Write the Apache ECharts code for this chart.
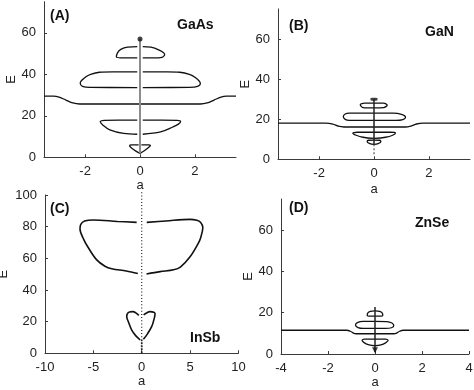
<!DOCTYPE html>
<html>
<head>
<meta charset="utf-8">
<script src="https://cdn.jsdelivr.net/npm/echarts@6/dist/echarts.min.js"></script>
<style>
html,body{margin:0;padding:0;background:#fff;}
#chart{width:474px;height:390px;}
</style>
</head>
<body>
<div id="chart"></div>
<script>
// ---------- Panel A : GaAs ----------
const gaAsBand = [[-3.5,29.5],[-3.15,29.5],[-2.95,29.0],[-2.7,27.6],[-2.45,26.2],[-2.2,25.7],[0,25.7],[2.2,25.7],[2.45,26.2],[2.7,27.6],[2.95,29.0],[3.15,29.5],[3.5,29.5]];
const gaAsL1 = [[-0.05,6.0],[-0.3,6.0],[-0.38,5.6],[-0.3,4.4],[-0.15,3.0],[0,1.9]];
const gaAsR1 = [[0.05,6.0],[0.3,6.0],[0.38,5.7],[0.3,4.6],[0.17,3.3],[0,1.9]];
const gaAsL2 = [[-0.1,17.9],[-0.8,17.9],[-1.3,17.8],[-1.45,17.1],[-1.35,15.5],[-1.1,13.2],[-0.6,11.5],[-0.1,11.1]];
const gaAsR2 = [[0.1,17.9],[0.8,17.9],[1.35,17.8],[1.48,17.3],[1.4,16.0],[1.2,14.6],[0.75,12.2],[0.1,11.1]];
const gaAsL3 = [[-0.1,41.2],[-1.0,41.2],[-1.48,41.0],[-1.8,40.0],[-1.97,38.8],[-2.18,35.8],[-2.1,34.2],[-1.8,33.7],[-0.1,33.6]];
const gaAsR3 = [[0.1,41.2],[1.0,41.2],[1.45,41.0],[1.8,40.0],[2.0,38.6],[2.2,35.6],[2.1,34.2],[1.8,33.7],[0.1,33.6]];
const gaAsL4 = [[-0.1,53.3],[-0.45,53.1],[-0.7,52.0],[-0.82,50.3],[-0.86,48.3],[-0.6,47.9],[-0.1,47.9]];
const gaAsR4 = [[0.1,53.3],[0.4,53.1],[0.68,51.8],[0.9,49.6],[0.8,48.2],[0.5,47.9],[0.1,47.9]];
const gaAsStem = [[0,1.9],[0,57]];
const gaAsTop = [[0,57]];

// ---------- Panel B : GaN ----------
const gaNBand = [[-3.5,18],[-1.75,18],[-1.5,17.5],[-1.3,16.5],[-1.1,16.1],[0,16.1],[1.15,16.1],[1.35,16.6],[1.55,17.6],[1.8,18],[3.5,18]];
const gaNL1 = [[0,9.6],[-0.2,9.5],[-0.25,8.8],[-0.15,7.8],[0,7.4]];
const gaNR1 = [[0,9.6],[0.2,9.5],[0.25,8.8],[0.15,7.8],[0,7.4]];
const gaNL2 = [[0,13.5],[-0.6,13.5],[-0.77,13.0],[-0.65,12.0],[-0.4,11.0],[0,10.4]];
const gaNR2 = [[0,13.5],[0.6,13.5],[0.78,13.1],[0.68,12.0],[0.42,11.0],[0,10.4]];
const gaNL3 = [[0,23.0],[-0.9,23.0],[-1.05,22.6],[-1.12,21.3],[-1.05,19.9],[-0.9,19.4],[0,19.4]];
const gaNR3 = [[0,23.0],[0.7,23.0],[1.0,22.4],[1.15,21.0],[1.05,19.8],[0.8,19.4],[0,19.4]];
const gaNL4 = [[0,28],[-0.35,28],[-0.5,27.2],[-0.4,25.8],[0,25.6]];
const gaNR4 = [[0,28],[0.35,28],[0.48,27.0],[0.35,25.8],[0,25.6]];
const gaNStem = [[0,7.2],[0,30]];
const gaNStemLow = [[0,2.5],[0,7.2]];
const gaNTop = [[0,30]];

// ---------- Panel C : InSb ----------
const inSbBigL = [[-0.52,82.7],[-2.5,83.3],[-5.0,84.2],[-5.9,83.6],[-6.3,81.5],[-6.38,78.5],[-6.0,72],[-5.5,66.5],[-4.65,59],[-3.8,55],[-3.1,53.4],[-1.6,52.0],[-0.4,50.4]];
const inSbBigR = [[0.52,82.7],[2.5,83.6],[5.0,84.6],[5.7,84.0],[6.1,82.6],[6.32,79.5],[6.1,73],[5.85,69.5],[5.0,61],[4.0,54.5],[3.3,52.8],[1.9,51.6],[0.5,50.1]];
const inSbSmallL = [[-0.3,24.0],[-0.6,25.5],[-0.9,26.3],[-1.3,26.0],[-1.55,23.3],[-1.35,19.5],[-1.03,14.7],[-0.6,11.0],[-0.15,8.4]];
const inSbSmallR = [[0.2,24.2],[0.5,25.5],[0.86,26.3],[1.25,26.0],[1.38,25.0],[1.25,21],[1.03,16.8],[0.6,12.3],[0.17,8.8]];
const inSbStem = [[0,0],[0,8.5]];
const inSbAxisDots = [[0,0],[0,103]];

// ---------- Panel D : ZnSe ----------
const znSeBand = [[-4,11.5],[-1.2,11.5],[-1.05,11.0],[-0.9,10.0],[-0.8,9.8],[0,9.8],[0.8,9.8],[0.9,10.0],[1.05,11.0],[1.2,11.5],[4,11.5]];
const znSeL1 = [[0,7.2],[-0.45,7.2],[-0.55,6.6],[-0.45,5.4],[-0.25,4.4],[0,4.0]];
const znSeR1 = [[0,7.2],[0.45,7.2],[0.56,6.6],[0.45,5.4],[0.25,4.4],[0,4.0]];
const znSeL2 = [[0,15.8],[-0.5,15.8],[-0.75,15.2],[-0.83,14.0],[-0.72,12.8],[-0.5,12.4],[0,12.4]];
const znSeR2 = [[0,15.8],[0.5,15.7],[0.72,15.0],[0.8,13.8],[0.7,12.7],[0.45,12.4],[0,12.4]];
const znSeL3 = [[0,20.9],[-0.2,20.6],[-0.32,19.6],[-0.33,18.6],[-0.2,18.3],[0,18.3]];
const znSeR3 = [[0,20.9],[0.2,20.6],[0.32,19.6],[0.33,18.6],[0.2,18.3],[0,18.3]];
const znSeStem = [[0,1.0],[0,22.8]];
const znSeArrow = [[0,1.8]];

// ---------- Axes ticks ----------
const xTicksAB = [-2,0,2];
const xTicksC = [-10,-5,0,5,10];
const xTicksD = [-4,-2,0,2,4];
const yTicks75 = [0,20,40,60];
const yTicksC = [0,20,40,60,80,100];

const FONT = 'Liberation Sans, Arial, Helvetica, sans-serif';
const AX = '#3a3a3a';

function xAx(gi, min, max, ticks, gap){
  return {type:'value', gridIndex:gi, min, max, name:'a', nameLocation:'middle', nameGap:gap,
    nameTextStyle:{fontFamily:FONT, fontSize:13, color:'#222'},
    axisLine:{show:true, onZero:false, lineStyle:{color:AX, width:1}},
    axisTick:{show:true, inside:true, length:3, customValues:ticks, lineStyle:{color:AX}},
    axisLabel:{customValues:ticks, fontFamily:FONT, fontSize:13, color:'#222', margin:8, showMinLabel:true, showMaxLabel:true},
    splitLine:{show:false}};
}
function yAx(gi, max, ticks, gap){
  return {type:'value', gridIndex:gi, min:0, max, name:'E', nameLocation:'middle', nameGap:gap, nameRotate:90,
    nameTextStyle:{fontFamily:FONT, fontSize:13, color:'#222'},
    axisLine:{show:true, onZero:false, lineStyle:{color:AX, width:1}},
    axisTick:{show:true, inside:true, length:3, customValues:ticks, lineStyle:{color:AX}},
    axisLabel:{customValues:ticks, fontFamily:FONT, fontSize:13, color:'#222', margin:8},
    splitLine:{show:false}};
}

function curve(data, gi, extra){
  return Object.assign({type:'line', xAxisIndex:gi, yAxisIndex:gi, data:data, symbol:'none', showSymbol:false,
    smooth:0.35, silent:true, animation:false, z:3,
    lineStyle:{color:'#111', width:1.3}}, extra||{});
}

const series = [];
// A
[gaAsBand,gaAsL1,gaAsR1,gaAsL2,gaAsR2,gaAsL3,gaAsR3,gaAsL4,gaAsR4].forEach(d=>series.push(curve(d,0)));
series.push(curve(gaAsStem,0,{smooth:false, z:4, lineStyle:{color:'#8c8c8c', width:2}}));
series.push({type:'scatter', xAxisIndex:0, yAxisIndex:0, data:gaAsTop, symbol:'circle', symbolSize:5, itemStyle:{color:'#111'}, silent:true, animation:false, z:5});
// B
[gaNBand,gaNL1,gaNR1,gaNL2,gaNR2,gaNL3,gaNR3,gaNL4,gaNR4].forEach(d=>series.push(curve(d,1)));
series.push(curve(gaNStem,1,{smooth:false, z:4, lineStyle:{color:'#222', width:1.5}}));
series.push(curve(gaNStemLow,1,{smooth:false, z:4, lineStyle:{color:'#555', width:1.2, type:[2,2]}}));
series.push({type:'scatter', xAxisIndex:1, yAxisIndex:1, data:gaNTop, symbol:'roundRect', symbolSize:[7,3], itemStyle:{color:'#111'}, silent:true, animation:false, z:5});
// C
series.push(curve(inSbAxisDots,2,{smooth:false, clip:false, z:2, lineStyle:{color:'#222', width:1.2, type:[1,2.2]}}));
[inSbBigL,inSbBigR,inSbSmallL,inSbSmallR].forEach(d=>series.push(curve(d,2,{lineStyle:{color:'#111', width:1.6}})));
series.push(curve(inSbStem,2,{smooth:false, lineStyle:{color:'#222', width:1.6, type:[2,1]}}));
// D
[znSeBand,znSeL1,znSeR1,znSeL2,znSeR2,znSeL3,znSeR3].forEach(d=>series.push(curve(d,3)));
series.push(curve(znSeStem,3,{smooth:false, z:4, lineStyle:{color:'#222', width:1.5}}));
series.push({type:'scatter', xAxisIndex:3, yAxisIndex:3, data:znSeArrow, symbol:'triangle', symbolRotate:180, symbolSize:[6,6], itemStyle:{color:'#111'}, silent:true, animation:false, z:5});

function label(text, x, y){
  return {type:'text', left:x, top:y, silent:true, z:10,
    style:{text:text, font:'bold 14px ' + FONT, fill:'#111'}};
}

const option = {
  backgroundColor:'#fff',
  animation:false,
  grid:[
    {left:44, right:238, top:1.7, bottom:232.7, outerBoundsMode:'none', containLabel:false},
    {left:278, right:4, top:8.9, bottom:230.7, outerBoundsMode:'none', containLabel:false},
    {left:45, right:235.6, top:195, bottom:36.7, outerBoundsMode:'none', containLabel:false},
    {left:281, right:5, top:199, bottom:36, outerBoundsMode:'none', containLabel:false}
  ],
  xAxis:[xAx(0,-3.5,3.5,xTicksAB,19), xAx(1,-3.5,3.5,xTicksAB,23.5), xAx(2,-10,10,xTicksC,16), xAx(3,-4,4,xTicksD,17)],
  yAxis:[yAx(0,75,yTicks75,26), yAx(1,75,yTicks75,23.5), yAx(2,100,yTicksC,35), yAx(3,75,yTicks75,26.5)],
  series:series,
  graphic:[
    label('(A)',50,9), label('GaAs',177,18),
    label('(B)',289,19), label('GaN',425,25),
    label('(C)',50,202), label('InSb',190,331),
    label('(D)',289,201), label('ZnSe',415,216)
  ]
};

const chart = echarts.init(document.getElementById('chart'), null, {renderer:'canvas'});
chart.setOption(option);
</script>
</body>
</html>
